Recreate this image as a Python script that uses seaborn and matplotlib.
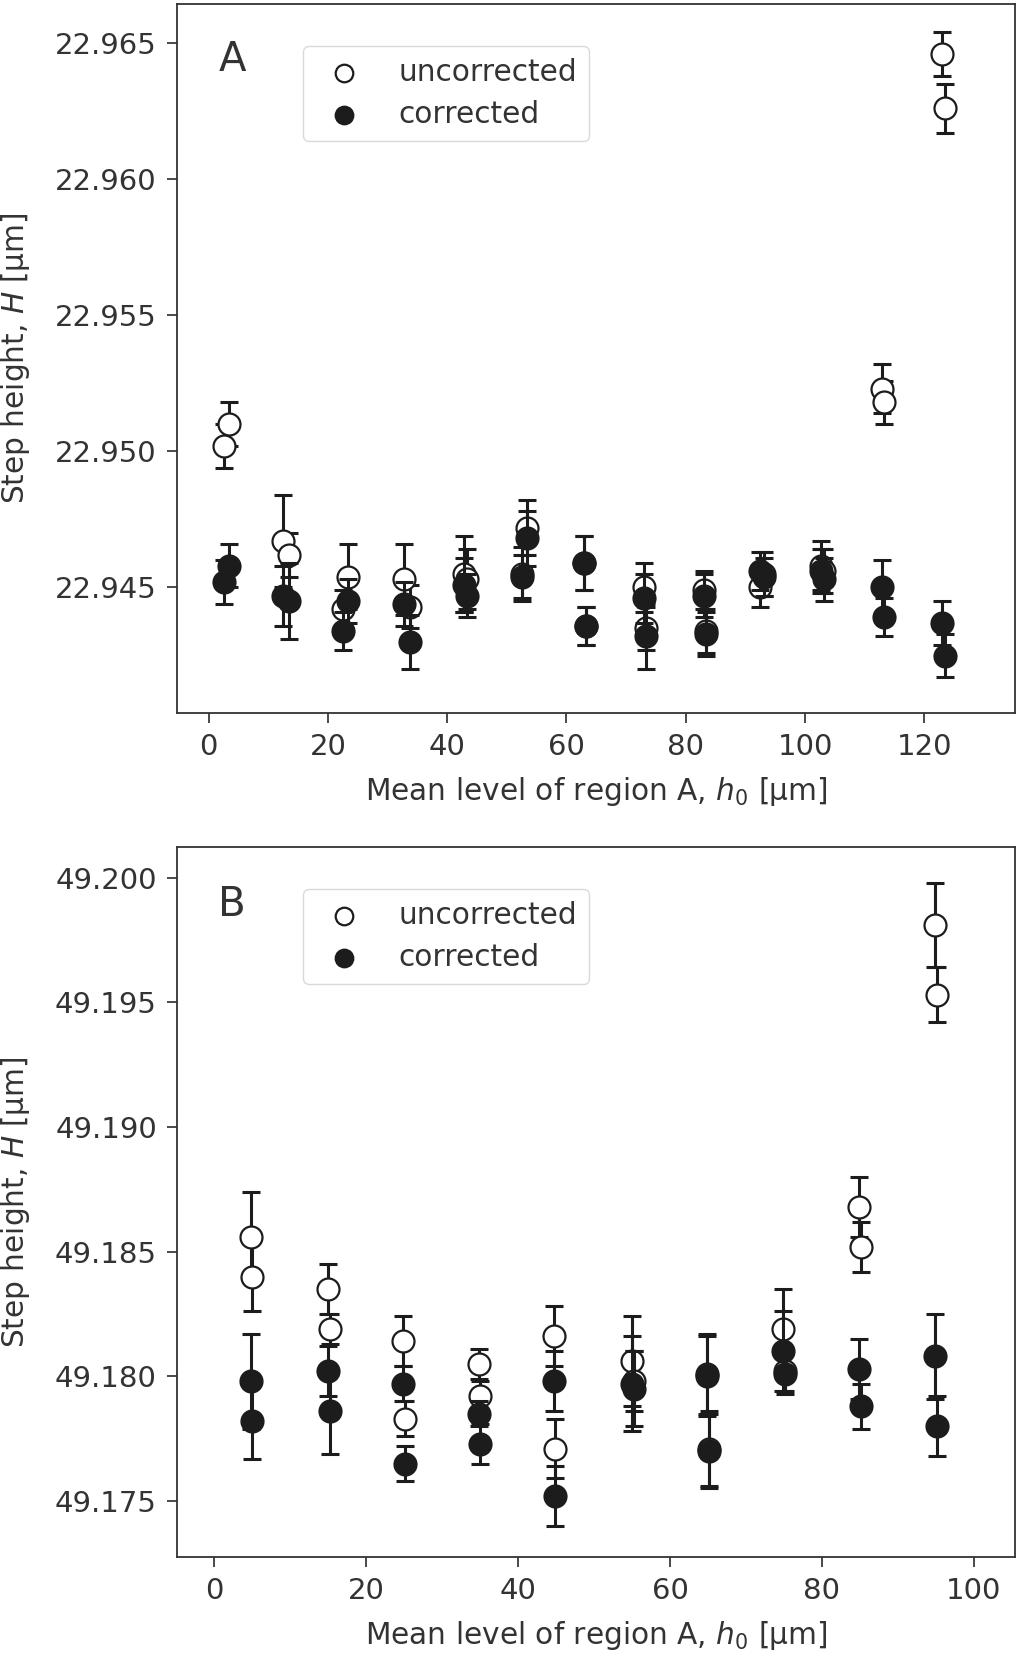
import numpy as np
import pandas as pd
import seaborn as sns
import matplotlib
matplotlib.use("Agg")
import matplotlib.pyplot as plt
from matplotlib.ticker import MultipleLocator, FormatStrFormatter

# panel A: step height ~22.95 um
h0_a = [2.6, 3.5, 12.5, 13.5, 22.5, 23.3, 32.7, 33.8, 42.9, 43.4, 52.6, 53.4, 62.9, 63.2,
        73.0, 73.3, 83.1, 83.4, 92.5, 93.2, 102.7, 103.1, 112.9, 113.3, 123.0, 123.4]
unc_a = [22.9502, 22.9510, 22.9467, 22.9462, 22.9442, 22.9454, 22.9453, 22.9443, 22.9455, 22.9453,
         22.9455, 22.9472, 22.9459, 22.9436, 22.9450, 22.9435, 22.9449, 22.9434, 22.9450, 22.9455,
         22.9458, 22.9456, 22.9523, 22.9518, 22.9646, 22.9626]
unc_err_a = [0.0008, 0.0008, 0.0017, 0.0008, 0.0007, 0.0012, 0.0013, 0.0008, 0.0014, 0.0011,
             0.0010, 0.0010, 0.0010, 0.0007, 0.0009, 0.0008, 0.0007, 0.0008, 0.0007, 0.0008,
             0.0009, 0.0008, 0.0009, 0.0008, 0.0008, 0.0009]
cor_a = [22.9452, 22.9458, 22.9447, 22.9445, 22.9434, 22.9445, 22.9444, 22.9430, 22.9451, 22.9447,
         22.9454, 22.9468, 22.9459, 22.9436, 22.9446, 22.9432, 22.9447, 22.9433, 22.9456, 22.9454,
         22.9456, 22.9453, 22.9450, 22.9439, 22.9437, 22.9425]
cor_err_a = [0.0008, 0.0008, 0.0011, 0.0014, 0.0007, 0.0008, 0.0008, 0.0010, 0.0010, 0.0008,
             0.0008, 0.0010, 0.0010, 0.0007, 0.0009, 0.0012, 0.0008, 0.0008, 0.0007, 0.0007,
             0.0008, 0.0008, 0.0010, 0.0007, 0.0008, 0.0008]

# panel B: step height ~49.18 um
h0_b = [4.8, 5.0, 15.0, 15.2, 24.9, 25.1, 34.8, 35.0, 44.7, 44.9,
        55.0, 55.2, 64.9, 65.1, 74.9, 75.1, 84.9, 85.1, 94.9, 95.1]
unc_b = [49.1856, 49.1840, 49.1835, 49.1819, 49.1814, 49.1783, 49.1805, 49.1792, 49.1816, 49.1771,
         49.1806, 49.1798, 49.1801, 49.1771, 49.1819, 49.1802, 49.1868, 49.1852, 49.1981, 49.1953]
unc_err_b = [0.0018, 0.0014, 0.0010, 0.0006, 0.0010, 0.0007, 0.0006, 0.0006, 0.0012, 0.0012,
             0.0018, 0.0012, 0.0016, 0.0015, 0.0016, 0.0008, 0.0012, 0.0010, 0.0017, 0.0011]
cor_b = [49.1798, 49.1782, 49.1802, 49.1786, 49.1797, 49.1765, 49.1785, 49.1773, 49.1798, 49.1752,
         49.1797, 49.1795, 49.1800, 49.1770, 49.1810, 49.1801, 49.1803, 49.1788, 49.1808, 49.1780]
cor_err_b = [0.0019, 0.0015, 0.0010, 0.0017, 0.0007, 0.0007, 0.0005, 0.0008, 0.0012, 0.0012,
             0.0019, 0.0015, 0.0016, 0.0015, 0.0016, 0.0008, 0.0012, 0.0009, 0.0017, 0.0012]

sns.set_theme(style="ticks", rc={
    "font.size": 21.3, "axes.labelsize": 21.3, "xtick.labelsize": 21, "ytick.labelsize": 21,
    "legend.fontsize": 21.3, "xtick.major.size": 7, "ytick.major.size": 7,
    "xtick.major.pad": 7.5, "ytick.major.pad": 7.5, "axes.linewidth": 1.3,
    "text.color": ".2", "axes.labelcolor": ".2", "xtick.color": ".2", "ytick.color": ".2",
})
plt.rcParams["font.family"] = ["DejaVu Sans"]

dark = "#1c1c1c"
fig = plt.figure(figsize=(10.17, 16.55), dpi=100)
ax_a = fig.add_axes([0.174, 0.5692, 0.824, 0.4283])
ax_b = fig.add_axes([0.174, 0.0592, 0.824, 0.4290])


def draw(ax, h0, unc, unc_err, cor, cor_err, letter, xlim, ylim, letter_y):
    df = pd.DataFrame({"h0": h0, "unc": unc, "unc_err": unc_err, "cor": cor, "cor_err": cor_err})
    ax.errorbar(df["h0"], df["unc"], yerr=df["unc_err"], fmt="none", ecolor=dark,
                elinewidth=2.2, capsize=6.5, capthick=2.2, zorder=2)
    sns.scatterplot(data=df, x="h0", y="unc", ax=ax, s=250, color="white",
                    edgecolor=dark, linewidth=1.6, label="uncorrected", zorder=3)
    ax.errorbar(df["h0"], df["cor"], yerr=df["cor_err"], fmt="none", ecolor=dark,
                elinewidth=2.2, capsize=6.5, capthick=2.2, zorder=4)
    sns.scatterplot(data=df, x="h0", y="cor", ax=ax, s=250, color=dark,
                    edgecolor=dark, linewidth=1.6, label="corrected", zorder=5)
    ax.set_xlim(*xlim)
    ax.set_ylim(*ylim)
    ax.xaxis.set_major_locator(MultipleLocator(20))
    ax.yaxis.set_major_locator(MultipleLocator(0.005))
    ax.yaxis.set_major_formatter(FormatStrFormatter("%.3f"))
    ax.set_xlabel(r"Mean level of region A, $h_0$ [µm]", labelpad=10)
    ax.set_ylabel(r"Step height, $H$ [µm]")
    ax.yaxis.set_label_coords(-0.173, 0.5)
    ax.text(0.066, letter_y, letter, transform=ax.transAxes, fontsize=29,
            ha="center", va="center", color=".2")
    leg = ax.legend(loc="upper left", bbox_to_anchor=(0.150, 0.941), borderaxespad=0,
                    markerscale=0.8, handletextpad=0.85, borderpad=0.4,
                    labelspacing=0.45, frameon=True)
    leg.get_frame().set_edgecolor("#d0d0d0")
    for s in ax.spines.values():
        s.set_color(".2")


draw(ax_a, h0_a, unc_a, unc_err_a, cor_a, cor_err_a, "A",
     (-5.3, 135.2), (22.94039, 22.96643), 0.921)
draw(ax_b, h0_b, unc_b, unc_err_b, cor_b, cor_err_b, "B",
     (-4.9, 105.4), (49.17275, 49.20123), 0.919)

fig.savefig("out.png", dpi=100)
